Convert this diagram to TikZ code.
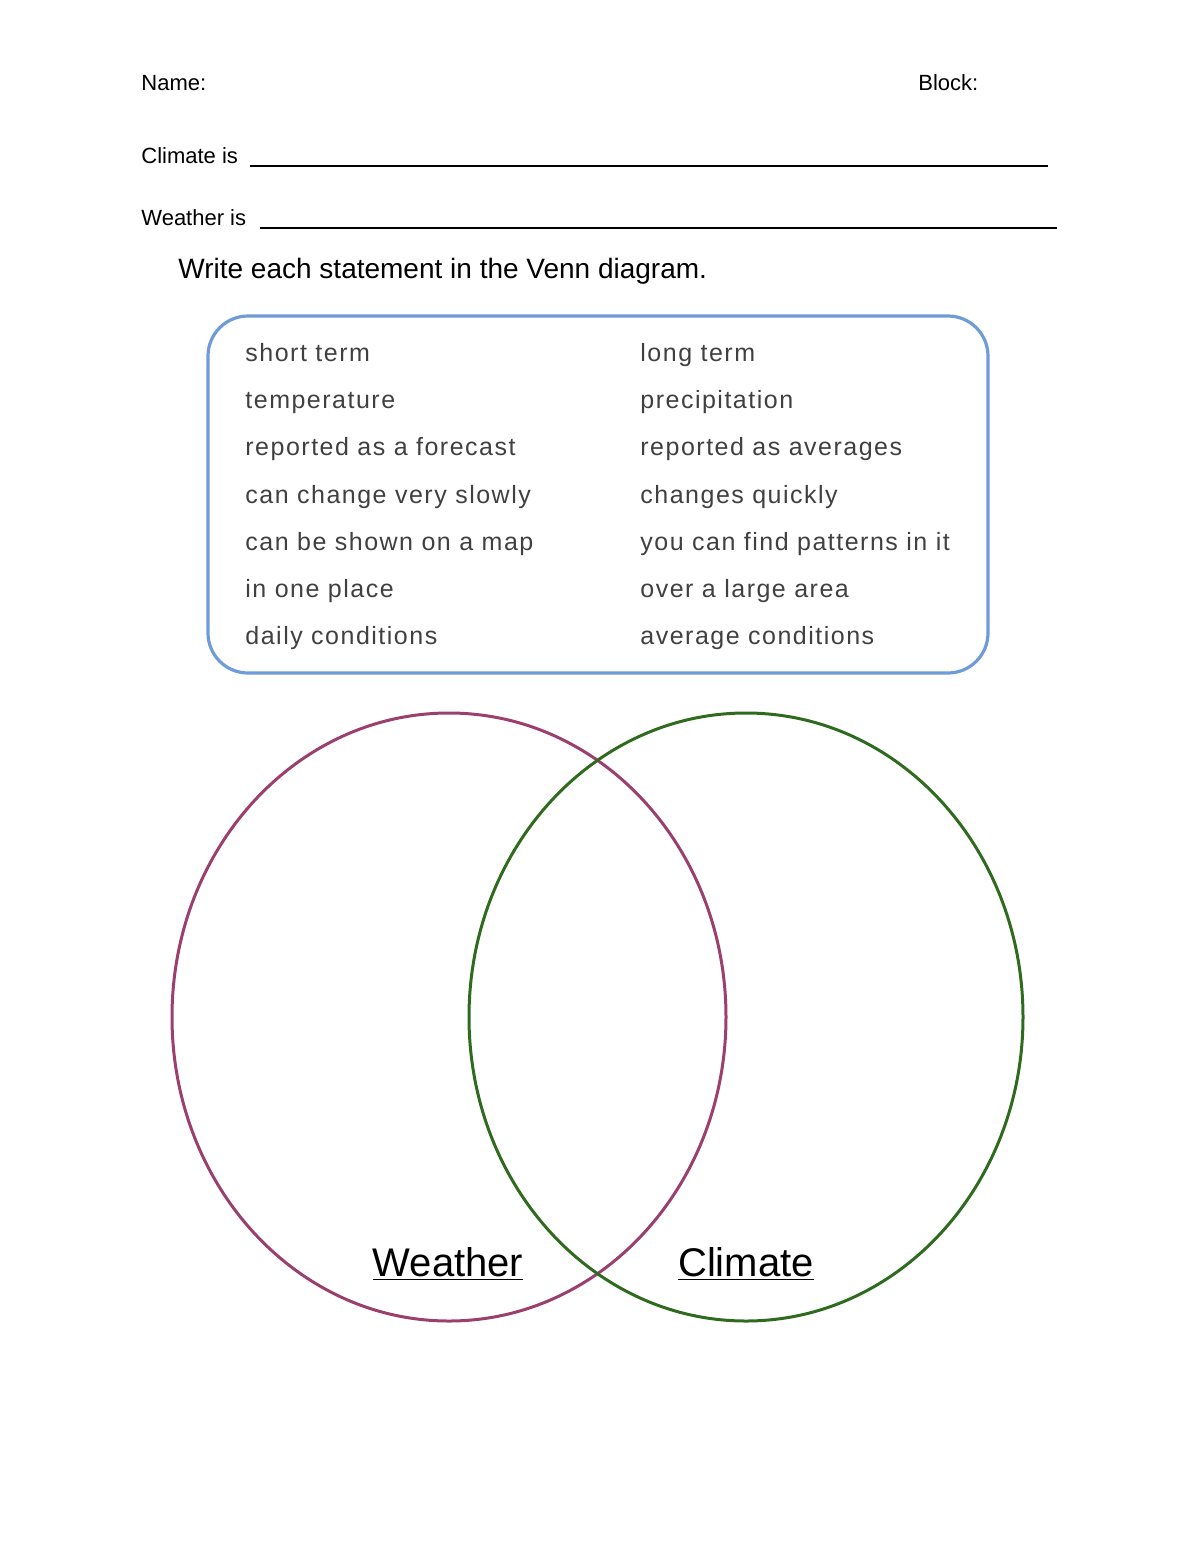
\documentclass[tikz,border=0pt]{standalone}
\usepackage{fontspec}
\setmainfont{Liberation Sans}
\newfontfamily\itemfont[LetterSpace=6]{Liberation Sans}
\definecolor{wcol}{HTML}{9A3F6E}
\definecolor{ccol}{HTML}{2F6B1E}
\definecolor{bcol}{HTML}{6F9BD8}
\begin{document}
\begin{tikzpicture}[x=0.5pt,y=-0.5pt,
  hdr/.style={anchor=base west,inner sep=0,font=\fontsize{11}{13}\selectfont},
  item/.style={anchor=base west,inner sep=0,font=\itemfont\fontsize{12.5}{14}\selectfont,text=black!75},
  lbl/.style={anchor=center,inner sep=0,font=\fontsize{20}{24}\selectfont}]
\useasboundingbox (0,0) rectangle (1200,1553);
\node[hdr] (name) at (141,90) {Name:};
\node[hdr] (block) at (918,90) {Block:};
\node[hdr] (clim) at (141,163) {Climate is};
\coordinate (c1) at (250,166); \coordinate (c2) at (1048,166);
\draw[line width=0.6pt] (c1) -- (c2);
\node[hdr] (weat) at (141,225) {Weather is};
\coordinate (w1) at (260,228); \coordinate (w2) at (1057,228);
\draw[line width=0.6pt] (w1) -- (w2);
\node[anchor=base west,inner sep=0,font=\fontsize{14}{16}\selectfont] (title) at (178,278) {Write each statement in the Venn diagram.};
\draw[bcol,line width=1.6pt,rounded corners=20pt] (208,316) rectangle (988,673);
\foreach \y/\a/\b in {352/short term/long term,399/temperature/precipitation,446/reported as a forecast/reported as averages,494/can change very slowly/changes quickly,541/can be shown on a map/you can find patterns in it,588/in one place/over a large area,635/daily conditions/average conditions}{
  \node[item] at (245,\y+9) {\a};
  \node[item] at (640,\y+9) {\b};
}
\draw[wcol,line width=1.5pt] (449,1017) ellipse [x radius=277,y radius=304];
\draw[ccol,line width=1.5pt] (746,1017) ellipse [x radius=277,y radius=304];
\node[lbl] (wl) at (448,1264) {\underline{Weather}};
\node[lbl] (cl) at (746,1264) {\underline{Climate}};
\end{tikzpicture}
\end{document}
